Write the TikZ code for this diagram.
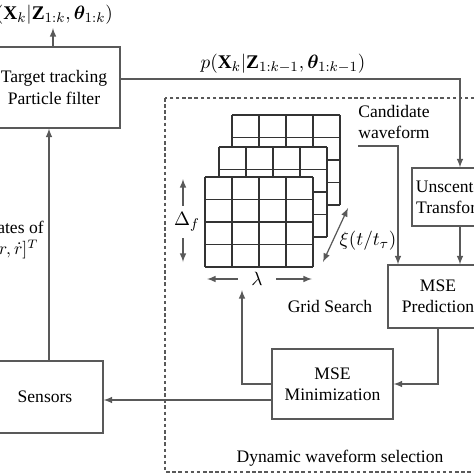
\documentclass[tikz,border=0pt]{standalone}
\usepackage{amsmath}
\usepackage{bm}
\usepackage{fontspec}
\setmainfont{Liberation Serif}
\usetikzlibrary{positioning}
\definecolor{linegray}{gray}{0.35}
\newcommand{\mathsz}{\fontsize{11}{13}\selectfont}
\tikzset{
  block/.style={draw=linegray,line width=0.7pt,align=center,inner sep=0pt},
  wire/.style={draw=linegray,line width=0.7pt},
  cell/.style={draw=black!80,line width=0.6pt},
  mlabel/.style={font=\mathsz}
}
\begin{document}
\begin{tikzpicture}[x=0.02cm,y=-0.02cm]
            \useasboundingbox (0,0) rectangle (474,474);
            \clip (0,0) rectangle (474,474);

            % blocks
            \node[block,minimum width=132*0.02cm,minimum height=81*0.02cm] (track) at (54,87.5) {Target tracking\\ Particle filter};
            \node[block,minimum width=116*0.02cm,minimum height=72*0.02cm] (sens) at (45,397) {Sensors};
            \node[block,minimum width=82*0.02cm,minimum height=58*0.02cm] (ut) at (453,197) {Unscented\\ Transform};
            \node[block,minimum width=100*0.02cm,minimum height=63*0.02cm] (pred) at (438,296.5) {MSE\\ Prediction};
            \node[block,minimum width=121*0.02cm,minimum height=70*0.02cm] (mini) at (332.5,384) {MSE\\ Minimization};

            % dashed frame
            \draw[linegray,line width=0.8pt,dash pattern=on 2pt off 1.5pt] (165,98) rectangle (530,472);
            \node (dws) at (340,458) {Dynamic waveform selection};

            % stacked search grids
            \foreach \gx/\gy in {232/115, 219/147, 205/177} {
              \fill[white] (\gx,\gy) rectangle ++(108,90);
              \foreach \i in {0,...,4} {
                \draw[cell] (\gx+\i*27,\gy) -- ++(0,90);
                \draw[cell] (\gx,\gy+\i*22.5) -- ++(108,0);
              }
            }
            \node[mlabel,inner sep=3.5pt] (df) at (187,222) {$\Delta_f$};
            \draw[wire,-latex] (df.north -| 183,0) -- (183,179);
            \draw[wire,-latex] (df.south -| 183,0) -- (183,262);
            \node[mlabel,inner sep=7.5pt] (lam) at (257,279) {$\lambda$};
            \draw[wire,-latex] (lam.west) -- (207,279);
            \draw[wire,-latex] (lam.east) -- (312,279);
            \coordinate (xa) at (323,262);
            \coordinate (xb) at (348,208);
            \draw[wire,latex-latex] (xa) -- (xb);
            \node[mlabel] (xi) at (368,241) {$\xi(t/t_\tau)$};
            \node (gsl) at (330,306) {Grid Search};
            \node[align=center] (cand) at (394,122) {Candidate\\ waveform};

            % helper coordinates
            \coordinate (sx) at (49,0);
            \coordinate (ox) at (53,0);
            \coordinate (rx) at (460,0);
            \coordinate (cx) at (398,0);
            \coordinate (ty) at (0,79);
            \coordinate (sy) at (0,400);
            \coordinate (cw) at (358,146);
            \coordinate (gs) at (242,290);

            % labels
            \node[mlabel,anchor=east] (post) at (119,15) {$p(\mathbf{X}_k|\mathbf{Z}_{1:k},\bm{\theta}_{1:k})$};
            \node[mlabel] (prior) at (283,64) {$p(\mathbf{X}_k|\mathbf{Z}_{1:k-1},\bm{\theta}_{1:k-1})$};
            \node[align=right,anchor=east,inner sep=0pt] (est) at (44,240) {Estimates of\\ $[r,\dot{r}]^T$\makebox[3pt]{}};

            % connectors
            \draw[wire,-latex] (track.north -| ox) -- (ox |- 0,28);
            \draw[wire,-latex] (track.east |- ty) -- (rx |- ty) -- (ut.north -| rx);
            \draw[wire,-latex] (ut.south -| rx) -- (pred.north -| rx);
            \draw[wire,-latex] (cw) -- (cx |- cw) -- (pred.north -| cx);
            \draw[wire,-latex] (pred.south) |- (mini.east);
            \draw[wire,-latex] (mini.west) -| (gs);
            \draw[wire,-latex] (mini.west |- sy) -- (sens.east |- sy);
            \draw[wire,-latex] (sens.north -| sx) -- (track.south -| sx);
        \end{tikzpicture}
\end{document}
